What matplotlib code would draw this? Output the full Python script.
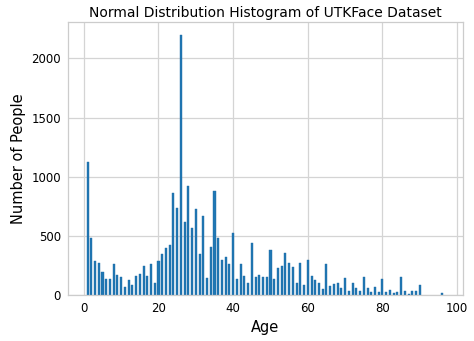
import matplotlib
matplotlib.use("Agg")
import matplotlib.pyplot as plt

ages = list(range(1, 91)) + [96]
counts = [
    1123, 482, 289, 273, 196, 131, 139, 263, 166, 156,
    65, 130, 81, 157, 177, 247, 158, 262, 98, 284,
    346, 395, 426, 859, 734, 2197, 615, 918, 570, 724,
    350, 664, 143, 409, 880, 483, 293, 325, 266, 526,
    132, 266, 157, 100, 440, 153, 170, 153, 148, 381,
    138, 232, 241, 353, 268, 236, 97, 271, 82, 293,
    161, 125, 103, 50, 259, 77, 94, 100, 56, 147,
    33, 98, 63, 32, 148, 58, 28, 69, 23, 133,
    22, 40, 18, 24, 155, 35, 10, 34, 33, 82,
    17,
]

title = "Normal Distribution Histogram of UTKFace Dataset"
xlabel = "Age"
ylabel = "Number of People"

plt.rcParams['font.family'] = ['DejaVu Sans']
fig = plt.figure(figsize=(4.74, 3.41), dpi=100)
ax = fig.add_axes([0.143, 0.135, 0.834, 0.80])
ax.set_axisbelow(True)
ax.grid(True, color='#d4d4d4', linewidth=0.9)
ax.bar(ages, counts, width=0.55, color='#1f77b4', edgecolor='#1f6aa5', linewidth=0.3)
ax.set_xlim(-4.3, 101.6)
ax.set_xticks([0, 20, 40, 60, 80, 100])
ax.set_yticks([0, 500, 1000, 1500, 2000])
for s in ax.spines.values():
    s.set_color('#cccccc')
    s.set_linewidth(0.9)
ax.tick_params(length=0, labelsize=8.5, pad=5)
ax.set_xlabel(xlabel, fontsize=10.5)
ax.set_ylabel(ylabel, fontsize=10.5)
ax.set_title(title, fontsize=10, pad=4)
fig.savefig("out.png", dpi=100)
